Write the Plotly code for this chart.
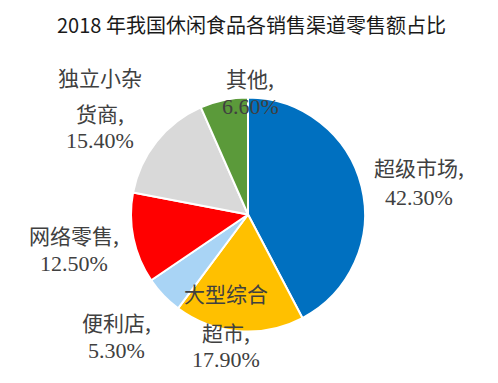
import plotly.graph_objects as go

# ---- data ----
categories = ["超级市场", "大型综合超市", "便利店", "网络零售", "独立小杂货商", "其他"]
values = [42.30, 17.90, 5.30, 12.50, 15.40, 6.60]
colors = ["#0070C0", "#FFC000", "#A9D4F5", "#FF0000", "#D9D9D9", "#5B9A3A"]
# how each name is wrapped in its label
name_lines = [["超级市场,"], ["大型综合", "超市,"], ["便利店,"], ["网络零售,"], ["独立小杂", "货商,"], ["其他,"]]
title_text = "2018 年我国休闲食品各销售渠道零售额占比"

W, H = 498, 383
# label placement: center x and the y of every line (name lines, then value line), in pixels
label_x = [419, 226, 116, 74, 100, 250]
label_ys = [[167, 197], [293, 332, 359], [322, 350], [235, 263], [77, 113, 141], [78, 107]]

fig = go.Figure(go.Pie(
    labels=categories,
    values=values,
    sort=False,
    direction="clockwise",
    rotation=0,
    marker=dict(colors=colors, line=dict(color="white", width=2)),
    textinfo="none",
    hoverinfo="label+percent",
    showlegend=False,
    domain=dict(x=[(248 - 117) / W, (248 + 117) / W], y=[(383 - 332) / H, (383 - 97) / H]),
))

annotations = [dict(
    text=title_text, x=251 / W, y=1 - 25 / H, xref="paper", yref="paper",
    showarrow=False, xanchor="center", yanchor="middle",
    font=dict(family="Noto Sans CJK SC", size=20, color="#1a1a1a"),
)]

for lines, v, px, ys in zip(name_lines, values, label_x, label_ys):
    for ln, py in zip(lines, ys):
        annotations.append(dict(
            text=ln, x=px / W, y=1 - py / H, xref="paper", yref="paper",
            showarrow=False, xanchor="center", yanchor="middle",
            font=dict(family="Noto Sans CJK SC", size=21, color="#404040"),
        ))
    annotations.append(dict(
        text=f"{v:.2f}%", x=px / W, y=1 - ys[-1] / H,
        xref="paper", yref="paper",
        showarrow=False, xanchor="center", yanchor="middle",
        font=dict(family="Liberation Serif", size=22, color="#404040"),
    ))

fig.update_layout(
    width=W, height=H,
    margin=dict(l=0, r=0, t=0, b=0),
    paper_bgcolor="white", plot_bgcolor="white",
    annotations=annotations,
)

fig.write_html("out.html")
